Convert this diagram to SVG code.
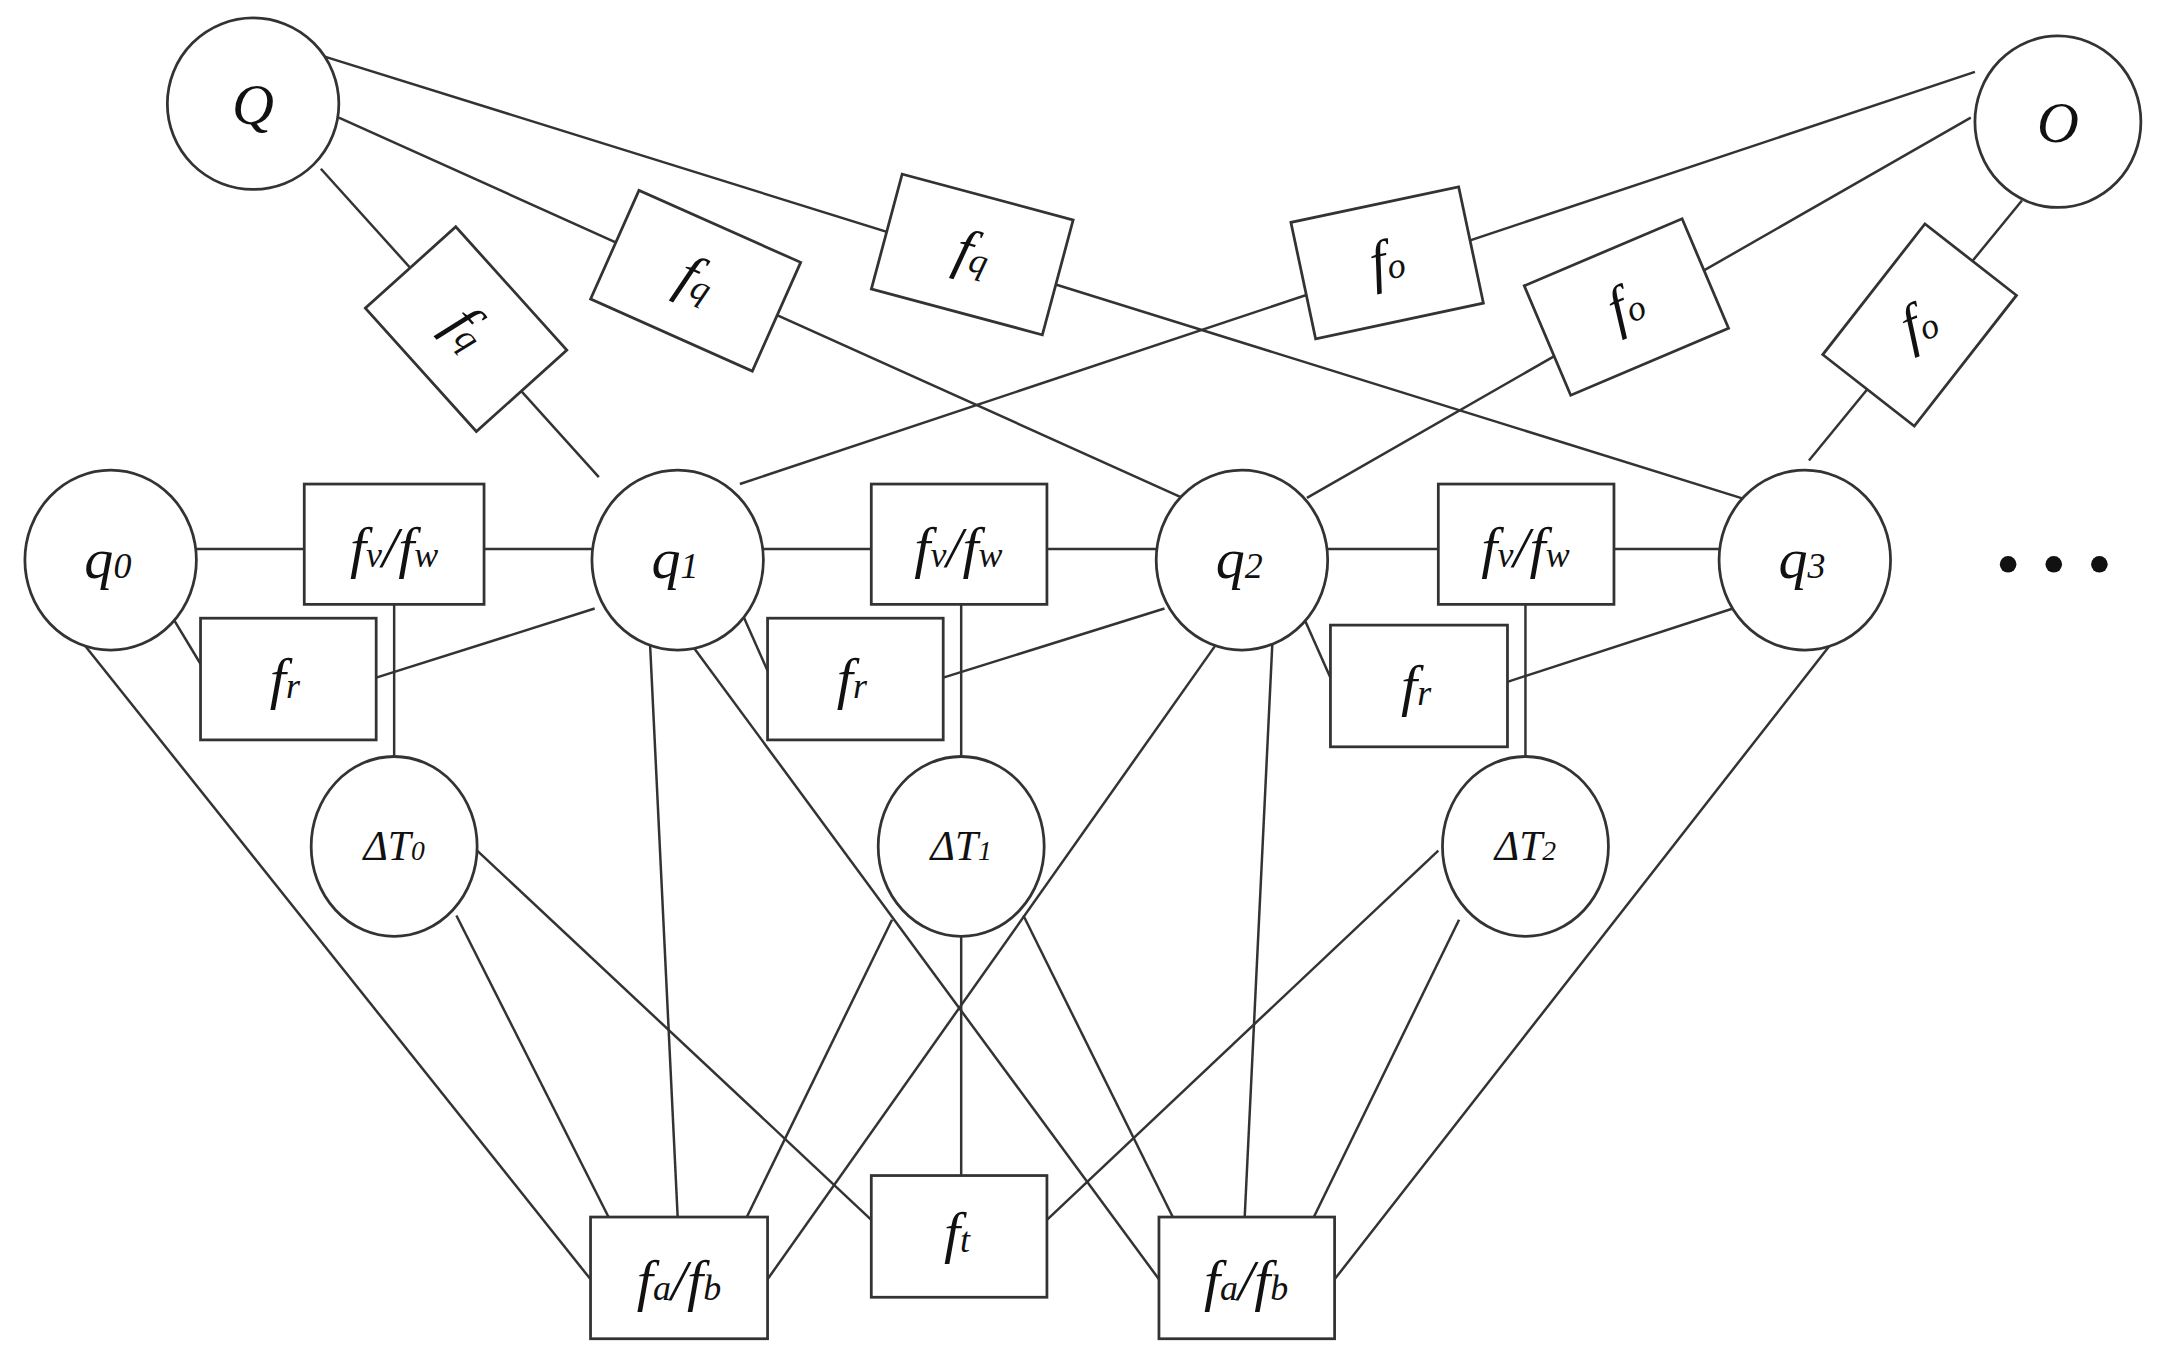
<svg xmlns="http://www.w3.org/2000/svg" width="2163" height="1364" viewBox="0 0 2163 1364">
<style>
.n{fill:#fff;stroke:#333;stroke-width:2}
.c line{stroke:#333;stroke-width:1.8}
text{font-family:"Liberation Serif","Times New Roman",serif;font-style:italic;fill:#111;text-anchor:middle}
.L{font-size:42px}
.s{font-size:26px}
</style>
<rect width="2163" height="1364" fill="#fff"/>
<g transform="scale(1.383)">
<g class="c" id="connectors">
<line x1="232" y1="122" x2="433" y2="345"/>
<line x1="245" y1="85" x2="855" y2="360"/>
<line x1="222" y1="37" x2="1265" y2="362"/>
<line x1="1428" y1="52" x2="535" y2="350"/>
<line x1="1425" y1="85" x2="945" y2="360"/>
<line x1="1462" y1="145" x2="1308" y2="333"/>
<line x1="80" y1="397" x2="1305" y2="397"/>
<line x1="285" y1="437" x2="285" y2="548"/>
<line x1="695" y1="437" x2="695" y2="548"/>
<line x1="1103" y1="437" x2="1103" y2="548"/>
<line x1="125" y1="447" x2="148" y2="485"/>
<line x1="430" y1="440" x2="272" y2="490"/>
<line x1="535" y1="440" x2="555" y2="485"/>
<line x1="842" y1="440" x2="682" y2="490"/>
<line x1="942" y1="445" x2="962" y2="490"/>
<line x1="1253" y1="440" x2="1090" y2="493"/>
<line x1="40" y1="440" x2="427" y2="925"/>
<line x1="330" y1="662" x2="440" y2="880"/>
<line x1="470" y1="465" x2="490" y2="880"/>
<line x1="645" y1="665" x2="540" y2="880"/>
<line x1="880" y1="465" x2="555" y2="925"/>
<line x1="345" y1="615" x2="630" y2="882"/>
<line x1="695" y1="677" x2="695" y2="850"/>
<line x1="1040" y1="615" x2="757" y2="882"/>
<line x1="497" y1="462" x2="838" y2="925"/>
<line x1="740" y1="662" x2="848" y2="880"/>
<line x1="920" y1="465" x2="900" y2="880"/>
<line x1="1055" y1="665" x2="950" y2="880"/>
<line x1="1340" y1="445" x2="965" y2="925"/>
</g>
<g id="Q"><ellipse class="n" cx="183" cy="75" rx="62" ry="62"/><text class="L" x="183" y="90">Q</text></g>
<g id="O"><ellipse class="n" cx="1488" cy="88" rx="60" ry="62"/><text class="L" x="1488" y="103">O</text></g>
<g id="q0"><ellipse class="n" cx="80" cy="405" rx="62" ry="65"/><text class="L" x="78" y="418">q<tspan class="s">0</tspan></text></g>
<g id="q1"><ellipse class="n" cx="490" cy="405" rx="62" ry="65"/><text class="L" x="488" y="418">q<tspan class="s">1</tspan></text></g>
<g id="q2"><ellipse class="n" cx="898" cy="405" rx="62" ry="65"/><text class="L" x="896" y="418">q<tspan class="s">2</tspan></text></g>
<g id="q3"><ellipse class="n" cx="1305" cy="405" rx="62" ry="65"/><text class="L" x="1303" y="418">q<tspan class="s">3</tspan></text></g>
<g id="dots"><circle cx="1452" cy="408" r="6" fill="#111"/><circle cx="1485" cy="408" r="6" fill="#111"/><circle cx="1518" cy="408" r="6" fill="#111"/></g>
<g id="fvfw0"><rect class="n" x="220" y="350" width="130" height="87"/><text class="L" x="285" y="410">f<tspan class="s">v</tspan>/f<tspan class="s">w</tspan></text></g>
<g id="fvfw1"><rect class="n" x="630" y="350" width="127" height="87"/><text class="L" x="693" y="410">f<tspan class="s">v</tspan>/f<tspan class="s">w</tspan></text></g>
<g id="fvfw2"><rect class="n" x="1040" y="350" width="127" height="87"/><text class="L" x="1103" y="410">f<tspan class="s">v</tspan>/f<tspan class="s">w</tspan></text></g>
<g id="fr0"><rect class="n" x="145" y="447" width="127" height="88"/><text class="L" x="206" y="505">f<tspan class="s">r</tspan></text></g>
<g id="fr1"><rect class="n" x="555" y="447" width="127" height="88"/><text class="L" x="616" y="505">f<tspan class="s">r</tspan></text></g>
<g id="fr2"><rect class="n" x="962" y="452" width="128" height="88"/><text class="L" x="1024" y="510">f<tspan class="s">r</tspan></text></g>
<g id="dT0"><ellipse class="n" cx="285" cy="612" rx="60" ry="65"/><text x="285" y="622" font-size="30">ΔT<tspan font-size="20">0</tspan></text></g>
<g id="dT1"><ellipse class="n" cx="695" cy="612" rx="60" ry="65"/><text x="695" y="622" font-size="30">ΔT<tspan font-size="20">1</tspan></text></g>
<g id="dT2"><ellipse class="n" cx="1103" cy="612" rx="60" ry="65"/><text x="1103" y="622" font-size="30">ΔT<tspan font-size="20">2</tspan></text></g>
<g id="fafb0"><rect class="n" x="427" y="880" width="128" height="88"/><text class="L" x="491" y="940">f<tspan class="s">a</tspan>/f<tspan class="s">b</tspan></text></g>
<g id="ft"><rect class="n" x="630" y="850" width="127" height="88"/><text class="L" x="692" y="905">f<tspan class="s">t</tspan></text></g>
<g id="fafb1"><rect class="n" x="838" y="880" width="127" height="88"/><text class="L" x="901" y="940">f<tspan class="s">a</tspan>/f<tspan class="s">b</tspan></text></g>
<g id="fq0" transform="translate(337,238) rotate(48)"><rect class="n" x="-60" y="-44" width="120" height="88"/><text class="L" x="0" y="12">f<tspan class="s">q</tspan></text></g>
<g id="fq1" transform="translate(503,203) rotate(24)"><rect class="n" x="-64" y="-43" width="128" height="86"/><text class="L" x="0" y="12">f<tspan class="s">q</tspan></text></g>
<g id="fq2" transform="translate(703,184) rotate(15)"><rect class="n" x="-64" y="-43" width="128" height="86"/><text class="L" x="0" y="12">f<tspan class="s">q</tspan></text></g>
<g id="fo0" transform="translate(1003,190) rotate(-12)"><rect class="n" x="-62" y="-43" width="124" height="86"/><text class="L" x="0" y="12">f<tspan class="s">o</tspan></text></g>
<g id="fo1" transform="translate(1176,222) rotate(-23)"><rect class="n" x="-62" y="-43" width="124" height="86"/><text class="L" x="0" y="12">f<tspan class="s">o</tspan></text></g>
<g id="fo2" transform="translate(1388,235) rotate(-52)"><rect class="n" x="-60" y="-42" width="120" height="84"/><text class="L" x="0" y="12" transform="rotate(30)">f<tspan class="s">o</tspan></text></g>
</g>
</svg>
